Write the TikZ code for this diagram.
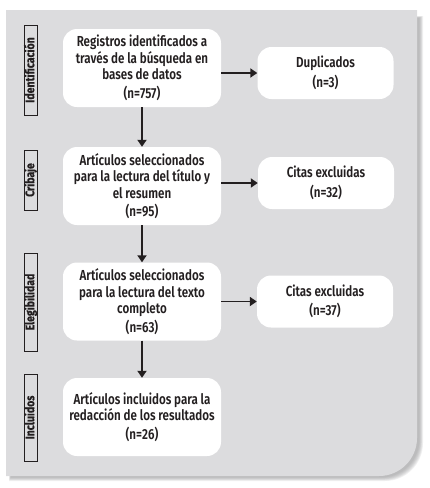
\documentclass[tikz,border=0pt]{standalone}
\usepackage{fontspec}
\setmainfont{Fira Sans}[FakeStretch=0.8, UprightFont={* SemiBold}]
\newfontfamily\stagefont{Fira Sans}[FakeStretch=0.84, UprightFont={* Bold}, FakeBold=0.5]
\usetikzlibrary{arrows.meta}
\definecolor{panel}{HTML}{DCDCDE}
\definecolor{shadowc}{HTML}{8E8E90}
\definecolor{txt}{HTML}{231F20}
\begin{document}
\begin{tikzpicture}[x=1pt,y=-1pt,
  mainbox/.style={draw=none,fill=white,rounded corners=14pt,minimum width=158pt,minimum height=78pt,align=center,font=\fontsize{14.5}{16.5}\selectfont,text=txt,inner sep=2pt},
  sidebox/.style={draw=none,fill=white,rounded corners=14pt,minimum width=136pt,minimum height=52pt,align=center,font=\fontsize{14.5}{16.5}\selectfont,text=txt,inner sep=2pt},
  stagebox/.style={draw=txt,line width=1pt,fill=panel,rotate=90,minimum height=13pt,inner sep=0pt,text height=9pt,text depth=2.5pt,font=\stagefont\fontsize{12.5}{14}\selectfont,text=txt},
  arr/.style={draw=txt,line width=1.8pt,-{Triangle[length=7pt,width=9pt]}}]
\useasboundingbox (0,0) rectangle (430,488);
% shadow (soft, built from stacked translucent copies)
\foreach \s in {0,1,2,3,4,5,6}{
  \fill[shadowc,opacity=0.12] (6+\s*0.3+3,10+\s*0.3+6) -- (417+6-\s*0.6,10+\s*0.3+6) [rounded corners=38pt] -- (417+6-\s*0.6,476+5-\s*0.6) [sharp corners] -- (6+\s*0.3+3,476+5-\s*0.6) -- cycle;
}
\fill[panel] (6,10) -- (417,10) [rounded corners=38pt] -- (417,476) [sharp corners] -- (6,476) -- cycle;
% stage labels
\node[stagebox,minimum width=90pt] (L1) at (31,70) {Identificación};
\node[stagebox,minimum width=60pt] (L2) at (31,180) {Cribaje};
\node[stagebox,minimum width=98pt] (L3) at (31,302) {Elegibilidad};
\node[stagebox,minimum width=87pt] (L4) at (31,417.5) {Incluidos};
% main boxes
\node[mainbox] (B1) at (142,68) {Registros identificados a\\través de la búsqueda en\\bases de datos\\[2pt](n=757)};
\node[mainbox] (B2) at (142,186) {Artículos seleccionados\\para la lectura del título y\\el resumen\\[2pt](n=95)};
\node[mainbox] (B3) at (142,301.5) {Artículos seleccionados\\para la lectura del texto\\completo\\[2pt](n=63)};
\node[mainbox] (B4) at (142,417) {Artículos incluidos para la\\redacción de los resultados\\[2pt](n=26)};
% side boxes
\node[sidebox] (R1) at (325.5,73) {Duplicados\\[3pt](n=3)};
\node[sidebox] (R2) at (326,183) {Citas excluidas\\[3pt](n=32)};
\node[sidebox] (R3) at (325,301.5) {Citas excluidas\\[3pt](n=37)};
% arrows
\draw[arr] (B1) -- (B2);
\draw[arr] (B2) -- (B3);
\draw[arr] (B3) -- (B4);
\draw[arr] (B1.east |- R1) -- (R1);
\draw[arr] (B2.east |- R2) -- (R2);
\draw[arr] (B3.east |- R3) -- (R3);
\end{tikzpicture}
\end{document}
